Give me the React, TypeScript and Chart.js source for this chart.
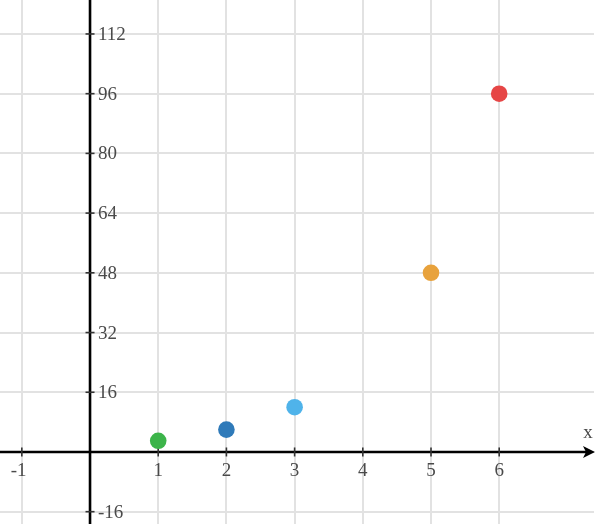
import React, { useEffect, useRef } from "react";
import { Chart, registerables } from "chart.js";

Chart.register(...registerables);

const xValues = [1, 2, 3, 5, 6];
const yValues = [3, 6, 12, 48, 96];
const pointColors = ["#3cb44a", "#2f7ab9", "#4fb3ea", "#e8a23c", "#e64646"];
const xGridTicks = [-1, 0, 1, 2, 3, 4, 5, 6];
const yGridTicks = [-16, 0, 16, 32, 48, 64, 80, 96, 112];
const xLabelTicks = [-1, 1, 2, 3, 4, 5, 6];
const yLabelTicks = [-16, 16, 32, 48, 64, 80, 96, 112];
const xMin = -1.32;
const xMax = 7.39;
const yMin = -19.3;
const yMax = 121.1;
const xAxisName = "x";

const FONT = '19px "Liberation Serif", "Times New Roman", serif';

const axesPlugin = {
  id: "axesPlugin",
  beforeDatasetsDraw(chart: any) {
    const { ctx, chartArea, scales } = chart;
    const xs = scales.x;
    const ys = scales.y;
    const x0 = xs.getPixelForValue(0);
    const y0 = ys.getPixelForValue(0);
    ctx.save();
    // axes
    ctx.strokeStyle = "#000";
    ctx.fillStyle = "#000";
    ctx.lineWidth = 2.6;
    ctx.beginPath();
    ctx.moveTo(chartArea.left, y0);
    ctx.lineTo(chartArea.right - 8, y0);
    ctx.stroke();
    ctx.beginPath();
    ctx.moveTo(x0, 0);
    ctx.lineTo(x0, chart.height);
    ctx.stroke();
    // arrow
    const tip = chartArea.right + 1;
    ctx.beginPath();
    ctx.moveTo(tip, y0);
    ctx.lineTo(tip - 12, y0 - 6);
    ctx.lineTo(tip - 9, y0);
    ctx.lineTo(tip - 12, y0 + 6);
    ctx.closePath();
    ctx.fill();

    // ticks
    ctx.strokeStyle = "#333";
    ctx.lineWidth = 1.6;
    xLabelTicks.forEach((v) => {
      const px = xs.getPixelForValue(v);
      ctx.beginPath();
      ctx.moveTo(px, y0 - 4.5);
      ctx.lineTo(px, y0 + 4.5);
      ctx.stroke();
    });
    yLabelTicks.forEach((v) => {
      const py = ys.getPixelForValue(v);
      ctx.beginPath();
      ctx.moveTo(x0 - 4.5, py);
      ctx.lineTo(x0 + 4.5, py);
      ctx.stroke();
    });

    // labels
    ctx.font = FONT;
    ctx.fillStyle = "#4a4a4a";
    ctx.textBaseline = "top";
    ctx.textAlign = "center";
    const minusW = ctx.measureText("-").width;
    xLabelTicks.forEach((v) => {
      let px = xs.getPixelForValue(v);
      if (v < 0) px -= minusW / 2;
      ctx.fillText(String(v), px, y0 + 10);
    });
    ctx.textAlign = "left";
    ctx.textBaseline = "middle";
    yLabelTicks.forEach((v) => {
      const py = ys.getPixelForValue(v);
      ctx.fillText(String(v), x0 + 8, py + 1);
    });
    // axis name
    ctx.textAlign = "center";
    ctx.textBaseline = "alphabetic";
    ctx.fillText(xAxisName, chartArea.right - 6, y0 - 14);
    ctx.restore();
  },
};

export default function App() {
  const ref = useRef<HTMLCanvasElement | null>(null);
  useEffect(() => {
    if (!ref.current) return;
    const chart = new Chart(ref.current, {
      type: "scatter",
      data: {
        datasets: [
          {
            data: xValues.map((x, i) => ({ x, y: yValues[i] })),
            backgroundColor: pointColors,
            borderWidth: 0,
            pointRadius: 8.3,
            pointHoverRadius: 8.3,
          },
        ],
      },
      options: {
        responsive: false,
        animation: false,
        clip: false as any,
        layout: { autoPadding: false, padding: { left: 0, top: 0, bottom: 0, right: 6 } },
        plugins: {
          legend: { display: false },
          tooltip: { enabled: false },
        },
        events: [],
        scales: {
          x: {
            type: "linear",
            min: xMin,
            max: xMax,
            afterBuildTicks: (s: any) => {
              s.ticks = xGridTicks.map((v) => ({ value: v }));
            },
            ticks: { display: false },
            border: { display: false },
            grid: { color: "#e2e2e2", lineWidth: 2, drawTicks: false },
          },
          y: {
            type: "linear",
            min: yMin,
            max: yMax,
            afterBuildTicks: (s: any) => {
              s.ticks = yGridTicks.map((v) => ({ value: v }));
            },
            ticks: { display: false },
            border: { display: false },
            grid: { color: "#e2e2e2", lineWidth: 2, drawTicks: false },
          },
        },
      },
      plugins: [axesPlugin],
    });
    return () => chart.destroy();
  }, []);
  return (
    <canvas
      ref={ref}
      width={600}
      height={524}
      style={{ position: "fixed", left: 0, top: 0, width: 600, height: 524, background: "#fff" }}
    />
  );
}
